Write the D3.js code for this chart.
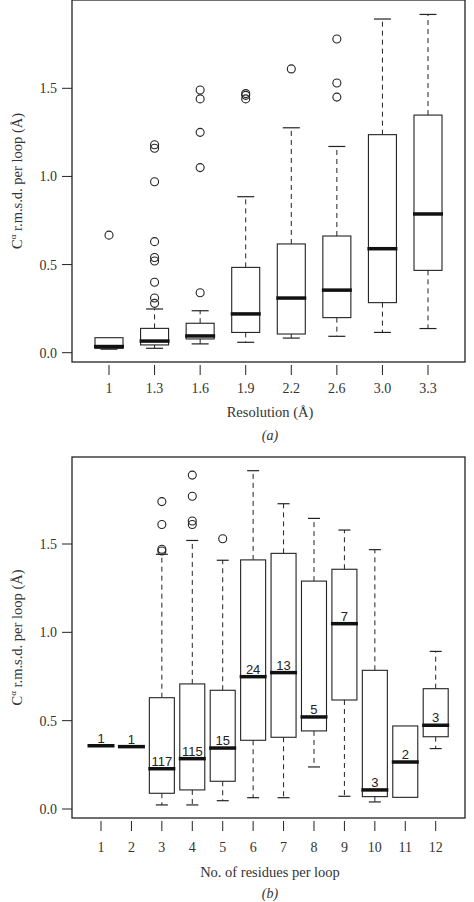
<!DOCTYPE html><html><head><meta charset="utf-8"><script src="https://cdn.jsdelivr.net/npm/d3@7"></script>
<style>body{margin:0;background:#fff}</style></head><body><svg id="c" width="474" height="902"></svg>
<script>
const resCats=["1","1.3","1.6","1.9","2.2","2.6","3.0","3.3"];
const resStats=[[0.02,0.025,0.035,0.085,0.085],[0.025,0.044,0.066,0.138,0.248],[0.05,0.078,0.095,0.167,0.238],[0.059,0.115,0.22,0.484,0.885],[0.083,0.106,0.31,0.617,1.276],[0.093,0.199,0.355,0.662,1.17],[0.115,0.284,0.59,1.237,1.893],[0.137,0.467,0.787,1.348,1.919]];
const resOut=[[0.667],[0.28,0.31,0.40,0.52,0.54,0.63,0.97,1.16,1.18],[0.34,1.05,1.25,1.44,1.49],[1.44,1.46,1.47],[1.61],[1.45,1.53,1.78],[],[]];
const resCats2=["1","2","3","4","5","6","7","8","9","10","11","12"];
const resStats2=[[0.358,0.358,0.358,0.358,0.358],[0.353,0.353,0.353,0.353,0.353],[0.023,0.089,0.228,0.63,1.442],[0.023,0.108,0.285,0.708,1.52],[0.047,0.157,0.345,0.672,1.408],[0.064,0.389,0.749,1.41,1.915],[0.064,0.406,0.772,1.447,1.728],[0.238,0.442,0.521,1.29,1.645],[0.072,0.617,1.049,1.357,1.579],[0.04,0.07,0.108,0.785,1.468],[0.066,0.066,0.266,0.47,0.47],[0.342,0.409,0.474,0.681,0.892]];
const resOut2=[[],[],[1.46,1.47,1.61,1.74],[1.61,1.63,1.77,1.89],[1.53],[],[],[],[],[],[],[]];
const counts2=["1","1","117","115","15","24","13","5","7","3","2","3"];
const yTicks=[0,0.5,1.0,1.5];
const svg=d3.select("#c");
function panel(cfg){
  const g=svg.append("g");
  const x=d3.scalePoint().domain(cfg.cats).range(cfg.xr);
  const y=d3.scaleLinear().domain([0,1.5]).range([cfg.y0,cfg.y15]);
  g.append("rect").attr("x",72).attr("y",cfg.top).attr("width",393).attr("height",cfg.bot-cfg.top).attr("fill","none").attr("stroke","#222").attr("stroke-width",1.3);
  yTicks.forEach(t=>{g.append("line").attr("x1",62).attr("x2",72).attr("y1",y(t)).attr("y2",y(t)).attr("stroke","#222");
    g.append("text").attr("x",57).attr("y",y(t)+5).attr("text-anchor","end").attr("font-family","Liberation Serif").attr("font-size",14).attr("fill","#333").text(t.toFixed(1));});
  cfg.cats.forEach(c=>{g.append("line").attr("x1",x(c)).attr("x2",x(c)).attr("y1",cfg.bot+3).attr("y2",cfg.bot+13).attr("stroke","#222");
    g.append("text").attr("x",x(c)).attr("y",cfg.tl).attr("text-anchor","middle").attr("font-family","Liberation Serif").attr("font-size",14).attr("fill","#333").text(c);});
  g.append("text").attr("x",270).attr("y",cfg.tt).attr("text-anchor","middle").attr("font-family","Liberation Serif").attr("font-size",14.5).attr("fill","#333").text(cfg.title);
  g.append("text").attr("x",270).attr("y",cfg.tp).attr("text-anchor","middle").attr("font-family","Liberation Serif").attr("font-style","italic").attr("font-size",14).attr("fill","#333").text(cfg.plab);
  const yl=g.append("text").attr("transform",`translate(22,${(cfg.top+cfg.bot)/2}) rotate(-90)`).attr("text-anchor","middle").attr("font-family","Liberation Serif").attr("font-size",14.5).attr("fill","#333");
  yl.append("tspan").text("C");yl.append("tspan").attr("font-size",9).attr("dy",-6).text("α");yl.append("tspan").attr("dy",6).text(" r.m.s.d. per loop (Å)");
  const bw=cfg.bw,cw=cfg.cw;
  cfg.stats.forEach((s,i)=>{const cx=x(cfg.cats[i]);
    if(s[4]>s[3]){g.append("line").attr("x1",cx).attr("x2",cx).attr("y1",y(s[3])).attr("y2",y(s[4])).attr("stroke","#222").attr("stroke-dasharray","5,4");
      g.append("line").attr("x1",cx-cw/2).attr("x2",cx+cw/2).attr("y1",y(s[4])).attr("y2",y(s[4])).attr("stroke","#222").attr("stroke-width",1.2);}
    if(s[0]<s[1]){g.append("line").attr("x1",cx).attr("x2",cx).attr("y1",y(s[1])).attr("y2",y(s[0])).attr("stroke","#222").attr("stroke-dasharray","5,4");
      g.append("line").attr("x1",cx-cw/2).attr("x2",cx+cw/2).attr("y1",y(s[0])).attr("y2",y(s[0])).attr("stroke","#222").attr("stroke-width",1.2);}
    if(s[3]>s[1])g.append("rect").attr("x",cx-bw/2).attr("y",y(s[3])).attr("width",bw).attr("height",y(s[1])-y(s[3])).attr("fill","#fff").attr("stroke","#222").attr("stroke-width",1.1);
    g.append("line").attr("x1",cx-bw/2-1).attr("x2",cx+bw/2+1).attr("y1",y(s[2])).attr("y2",y(s[2])).attr("stroke","#111").attr("stroke-width",3.5);
    cfg.out[i].forEach(o=>g.append("circle").attr("cx",cx).attr("cy",y(o)).attr("r",4).attr("fill","none").attr("stroke","#222").attr("stroke-width",1.1));
    if(cfg.counts)g.append("text").attr("x",cx).attr("y",y(s[2])-3).attr("text-anchor","middle").attr("font-family","Liberation Sans").attr("font-size",13).attr("fill","#222").text(cfg.counts[i]);
  });
}
panel({cats:resCats,stats:resStats,out:resOut,xr:[109,428],y0:352.7,y15:88.3,top:0,bot:362,tl:393,tt:417,tp:440,title:"Resolution (Å)",plab:"(a)",bw:28,cw:17});
panel({cats:resCats2,stats:resStats2,out:resOut2,counts:counts2,xr:[101,435.7],y0:809,y15:544,top:457,bot:818,tl:852,tt:877,tp:898,title:"No. of residues per loop",plab:"(b)",bw:25,cw:12});
</script></body></html>
